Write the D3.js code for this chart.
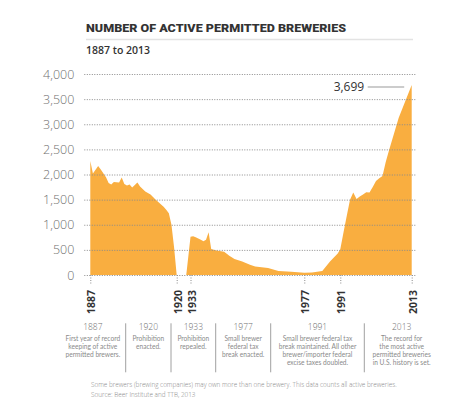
<!DOCTYPE html>
<html>
  <head>
    <meta charset="utf-8" />
    <script src="https://d3js.org/d3.v7.min.js"></script>
    <style>
      body {
        margin: 0;
        background: #ffffff;
      }
      .grid line {
        stroke: #8a8a8a;
        stroke-dasharray: 1, 1.5;
      }
      .grid text {
        font-family: "Open Sans", sans-serif;
        font-weight: 300;
        font-size: 12.5px;
        fill: #707070;
      }
      .xaxis line {
        stroke: #8a8a8a;
        stroke-dasharray: 1, 1.5;
      }
      .xaxis text {
        font-family: "Open Sans", sans-serif;
        font-weight: 700;
        font-size: 10.5px;
        fill: #333333;
      }
      .note-year {
        font-family: "Open Sans", sans-serif;
        font-weight: 300;
        font-size: 8.5px;
        fill: #707070;
      }
      .note-text {
        font-family: Lato, sans-serif;
        font-weight: 400;
        font-size: 6.6px;
        fill: #8a8a8a;
      }
      .foot {
        font-family: "Open Sans", sans-serif;
        font-weight: 300;
        font-size: 6.4px;
        fill: #888888;
      }
    </style>
  </head>
  <body>
    <div id="chart"></div>
    <script>
      // brewery counts
      const years = [
        1887, 1888, 1890, 1891, 1893, 1894, 1895, 1896, 1898, 1899, 1900,
        1901, 1902, 1903, 1905, 1906, 1908, 1910, 1912, 1915, 1916, 1917,
        1918, 1919, 1920, 1929, 1933, 1934, 1935, 1937, 1938, 1939, 1940,
        1941, 1943, 1946, 1948, 1950, 1953, 1956, 1958, 1963, 1967, 1972,
        1977, 1980, 1984, 1987, 1990, 1991, 1992, 1993, 1994, 1995, 1996,
        1997, 1998, 1999, 2000, 2001, 2002, 2003, 2004, 2005, 2006, 2009,
        2013,
      ];
      const counts = [
        2270, 2020, 2170, 2100, 1945, 1830, 1800, 1850, 1840, 1940, 1810,
        1780, 1800, 1740, 1840, 1760, 1660, 1600, 1500, 1360, 1300, 1230,
        1000, 550, 0, 0, 760, 770, 750, 700, 670, 700, 850, 515, 490, 465,
        385, 320, 270, 205, 170, 140, 80, 65, 45, 50, 80, 270, 430, 510,
        850, 1180, 1500, 1640, 1510, 1560, 1600, 1645, 1640, 1750, 1870,
        1925, 1970, 2250, 2480, 3130, 3780,
      ];
      const tickYears = [1887, 1920, 1933, 1977, 1991, 2013];
      const yTicks = [0, 500, 1000, 1500, 2000, 2500, 3000, 3500, 4000];
      const peakLabel = "3,699";

      const noteYears = ["1887", "1920", "1933", "1977", "1991", "2013"];
      const noteLines = [
        ["First year of record", "keeping of active", "permitted brewers."],
        ["Prohibition", "enacted."],
        ["Prohibition", "repealed."],
        ["Small brewer", "federal tax", "break enacted."],
        [
          "Small brewer federal tax",
          "break maintained. All other",
          "brewer/importer federal",
          "excise taxes doubled.",
        ],
        [
          "The record for",
          "the most active",
          "permitted breweries",
          "in U.S. history is set.",
        ],
      ];
      const footNote =
        "Some brewers (brewing companies) may own more than one brewery. This data counts all active breweries.";
      const source = "Source: Beer Institute and TTB, 2013";

      const data = years.map((y, i) => ({ year: y, count: counts[i] }));

      const width = 470,
        height = 418;
      const plotLeft = 90.3,
        plotTop = 74,
        plotW = 321.4,
        plotH = 201;

      // the original axis is not evenly spaced, so position each tick year
      const tickFrac = [0, 0.2688, 0.3118, 0.6658, 0.7778, 1];
      const x = d3
        .scaleLinear()
        .domain(tickYears)
        .range(tickFrac.map((f) => f * plotW));
      const y = d3.scaleLinear().domain([0, 4000]).range([plotH, 0]);

      const svg = d3
        .select("#chart")
        .append("svg")
        .attr("width", width)
        .attr("height", height);

      // title block
      svg
        .append("text")
        .attr("x", 86)
        .attr("y", 32.3)
        .attr("textLength", 260)
        .attr("lengthAdjust", "spacingAndGlyphs")
        .style("font-family", "Roboto, sans-serif")
        .style("font-weight", 900)
        .style("font-size", "11.8px")
        .style("fill", "#333333")
        .text("NUMBER OF ACTIVE PERMITTED BREWERIES");

      svg
        .append("line")
        .attr("x1", 86)
        .attr("x2", 413)
        .attr("y1", 39.5)
        .attr("y2", 39.5)
        .style("stroke", "#e3e3e3")
        .style("stroke-width", 1.5);

      svg
        .append("text")
        .attr("x", 86)
        .attr("y", 54)
        .style("font-family", "Open Sans, sans-serif")
        .style("font-weight", 600)
        .style("font-size", "10.5px")
        .style("fill", "#333333")
        .text("1887 to 2013");

      const g = svg
        .append("g")
        .attr("transform", `translate(${plotLeft},${plotTop})`);

      const area = d3
        .area()
        .x((d) => x(d.year))
        .y0(y(0))
        .y1((d) => y(d.count));

      g.append("path")
        .datum(data)
        .attr("d", area)
        .style("fill", "#f9ae40");

      // dotted grid lines drawn over the area
      g.append("g")
        .attr("class", "grid")
        .attr("transform", "translate(-6,0)")
        .call(
          d3
            .axisLeft(y)
            .tickValues(yTicks)
            .tickFormat(d3.format(","))
            .tickSize(-(plotW + 10))
            .tickPadding(10)
        )
        .call((a) => a.select(".domain").remove());

      const xAxis = g
        .append("g")
        .attr("class", "xaxis")
        .attr("transform", `translate(0,${plotH})`)
        .call(
          d3
            .axisBottom(x)
            .tickValues(tickYears)
            .tickFormat(d3.format("d"))
            .tickSize(9)
        );
      xAxis.select(".domain").remove();
      xAxis
        .selectAll("text")
        .attr("transform", "rotate(-90)")
        .attr("text-anchor", "end")
        .attr("x", -15)
        .attr("y", 1)
        .attr("dy", "0.35em");

      // peak annotation
      const last = data[data.length - 1];
      const py = y(last.count) + 2;
      g.append("line")
        .attr("x1", x(last.year) - 44)
        .attr("x2", x(last.year) - 7.5)
        .attr("y1", py)
        .attr("y2", py)
        .style("stroke", "#cccccc")
        .style("stroke-width", 2);
      g.append("text")
        .attr("x", x(last.year) - 47.5)
        .attr("y", py)
        .attr("dy", "0.35em")
        .attr("text-anchor", "end")
        .style("font-family", "Open Sans, sans-serif")
        .style("font-size", "12px")
        .style("fill", "#333333")
        .text(peakLabel);

      // notes under the axis
      const noteEdges = [60, 125.7, 171, 215.7, 270.7, 364.3, 439];
      const notes = svg.append("g");
      noteYears.forEach((yr, i) => {
        const cx = (noteEdges[i] + noteEdges[i + 1]) / 2;
        notes
          .append("text")
          .attr("class", "note-year")
          .attr("x", cx)
          .attr("y", 330)
          .attr("text-anchor", "middle")
          .text(yr);
        noteLines[i].forEach((ln, j) => {
          notes
            .append("text")
            .attr("class", "note-text")
            .attr("x", cx)
            .attr("y", 341 + j * 8)
            .attr("text-anchor", "middle")
            .text(ln);
        });
      });
      noteEdges.slice(1, -1).forEach((ex) => {
        notes
          .append("line")
          .attr("x1", ex)
          .attr("x2", ex)
          .attr("y1", 323.3)
          .attr("y2", 372.3)
          .style("stroke", "#a0a0a0")
          .style("stroke-width", 1);
      });

      svg
        .append("text")
        .attr("class", "foot")
        .attr("x", 91)
        .attr("y", 387.3)
        .attr("textLength", 305.7)
        .attr("lengthAdjust", "spacingAndGlyphs")
        .text(footNote);
      svg
        .append("text")
        .attr("class", "foot")
        .attr("x", 91)
        .attr("y", 397.3)
        .text(source);
    </script>
  </body>
</html>
